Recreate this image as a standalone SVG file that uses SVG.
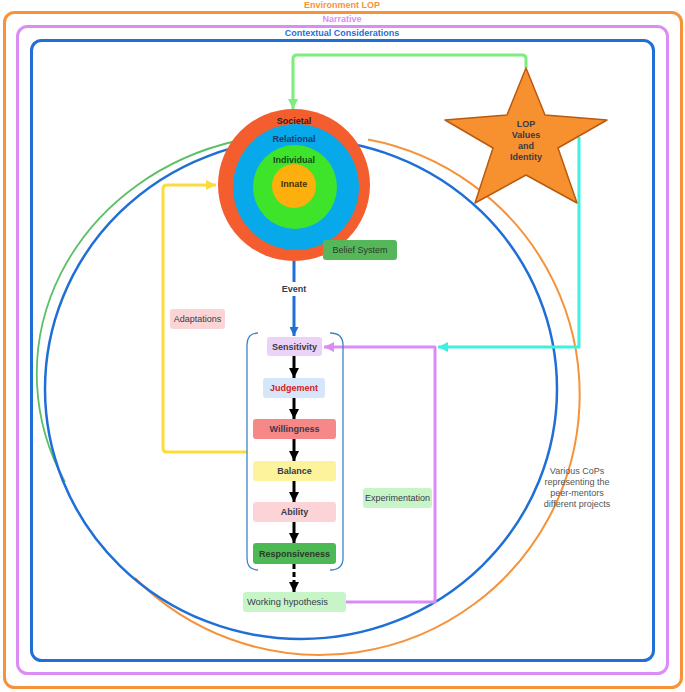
<svg xmlns="http://www.w3.org/2000/svg" width="685" height="692" viewBox="0 0 685 692">
<style>
text{font-family:"Liberation Sans",Arial,sans-serif;font-size:9px;text-anchor:middle}
.b{font-weight:bold}
.dk{fill:#3a3a48}
.frame{fill:none;stroke-width:3}
.conn{fill:none;stroke-width:3;stroke-linejoin:round}
.blk{stroke:#000;stroke-width:3;fill:none}
</style>
<defs>
<marker id="mBlue" viewBox="0 0 10 10" refX="10" refY="5" markerWidth="9" markerHeight="9" markerUnits="userSpaceOnUse" orient="auto"><path d="M0,0L10,5L0,10z" fill="#1f6fd6"/></marker>
<marker id="mBlack" viewBox="0 0 10 10" refX="10" refY="5" markerWidth="10" markerHeight="10" markerUnits="userSpaceOnUse" orient="auto"><path d="M0,0L10,5L0,10z" fill="#000"/></marker>
<marker id="mGreen" viewBox="0 0 10 10" refX="10" refY="5" markerWidth="10" markerHeight="10" markerUnits="userSpaceOnUse" orient="auto"><path d="M0,0L10,5L0,10z" fill="#7ded7d"/></marker>
<marker id="mYellow" viewBox="0 0 10 10" refX="10" refY="5" markerWidth="10" markerHeight="10" markerUnits="userSpaceOnUse" orient="auto"><path d="M0,0L10,5L0,10z" fill="#fcdc3c"/></marker>
<marker id="mCyan" viewBox="0 0 10 10" refX="10" refY="5" markerWidth="10" markerHeight="10" markerUnits="userSpaceOnUse" orient="auto"><path d="M0,0L10,5L0,10z" fill="#3ff0dc"/></marker>
<marker id="mPurple" viewBox="0 0 10 10" refX="10" refY="5" markerWidth="10" markerHeight="10" markerUnits="userSpaceOnUse" orient="auto"><path d="M0,0L10,5L0,10z" fill="#d98cf5"/></marker>
</defs>
<rect width="685" height="692" fill="#fff"/>

<g id="environment">
<rect class="frame" x="4.5" y="12.5" width="677" height="675" rx="10" stroke="#f7923a"/>
<text class="b" x="342" y="8" fill="#f7923a">Environment LOP</text>
</g>
<g id="narrative">
<rect class="frame" x="17.5" y="26.5" width="650" height="647" rx="10" stroke="#dd8cf5"/>
<text class="b" x="342" y="22" fill="#dd8cf5">Narrative</text>
</g>
<g id="contextual">
<rect class="frame" x="31.5" y="40.5" width="622" height="620" rx="10" stroke="#1f6fd6"/>
<text class="b" x="342" y="36" fill="#1f6fd6">Contextual Considerations</text>
</g>

<g id="cop-circles">
<path d="M368,139.5 A260 260 0 1 1 135,578" fill="none" stroke="#f7923a" stroke-width="2"/>
<path d="M236,141 A263 240 0 0 0 65,482" fill="none" stroke="#5cc064" stroke-width="1.8"/>
<ellipse cx="301" cy="389" rx="256" ry="250" fill="none" stroke="#1f6fd6" stroke-width="2.5"/>
</g>

<g id="cop-label">
<text x="577" y="474" fill="#555">Various CoPs</text>
<text x="577" y="485" fill="#555">representing the</text>
<text x="577" y="496" fill="#555">peer-mentors</text>
<text x="577" y="507" fill="#555">different projects</text>
</g>

<g id="connectors">
<path class="conn" d="M526,68 L526,59 Q526,55 522,55 L297,55 Q293,55 293,59 L293,109" stroke="#7ded7d" marker-end="url(#mGreen)"/>
<path class="conn" d="M579,137 L579,347 L438,347" stroke="#3ff0dc" marker-end="url(#mCyan)"/>
<path class="conn" d="M346,602 L435,602 L435,347 L324,347" stroke="#d98cf5" marker-end="url(#mPurple)"/>
<path class="conn" d="M247,452 L167,452 Q163,452 163,448 L163,189 Q163,185 167,185 L216,185" stroke="#fcdc3c" stroke-width="3.5" marker-end="url(#mYellow)"/>
<line x1="294" y1="261" x2="294" y2="282" stroke="#1f6fd6" stroke-width="3"/>
<line x1="294" y1="296" x2="294" y2="336" stroke="#1f6fd6" stroke-width="3" marker-end="url(#mBlue)"/>
<line class="blk" x1="294" y1="356" x2="294" y2="378" marker-end="url(#mBlack)"/>
<line class="blk" x1="294" y1="398" x2="294" y2="419" marker-end="url(#mBlack)"/>
<line class="blk" x1="294" y1="439" x2="294" y2="461" marker-end="url(#mBlack)"/>
<line class="blk" x1="294" y1="481" x2="294" y2="502" marker-end="url(#mBlack)"/>
<line class="blk" x1="294" y1="522" x2="294" y2="543" marker-end="url(#mBlack)"/>
<line class="blk" x1="294" y1="564" x2="294" y2="592" stroke-dasharray="5,3" marker-end="url(#mBlack)"/>
</g>

<g id="self-levels">
<circle cx="294" cy="185" r="76" fill="#f45d2e"/>
<circle cx="296" cy="187" r="63" fill="#07a9ea"/>
<circle cx="295" cy="187" r="42" fill="#3ee42a"/>
<circle cx="294" cy="186" r="22" fill="#fdaf0d"/>
<text class="b" x="294" y="124" fill="#3a1a14">Societal</text>
<text class="b" x="294" y="142" fill="#18386a">Relational</text>
<text class="b" x="294" y="163" fill="#1c4a18">Individual</text>
<text class="b" x="294" y="187" fill="#4a3000">Innate</text>
</g>

<g id="belief-system">
<rect x="323" y="240" width="74" height="20" rx="3" fill="#55b75a"/>
<text x="360" y="253" fill="#2a3a2a">Belief System</text>
</g>

<g id="event">
<text class="b dk" x="294" y="292">Event</text>
</g>

<g id="star">
<polygon points="526,68 545,115 607,120 558,148 577,203 526,175 475,203 493,148 445,120 507,115" fill="#f7902f" stroke="#b95a10" stroke-width="1.5" stroke-linejoin="round"/>
<text class="b dk" x="526" y="127">LOP</text>
<text class="b dk" x="526" y="138">Values</text>
<text class="b dk" x="526" y="149">and</text>
<text class="b dk" x="526" y="160">Identity</text>
</g>

<g id="adaptations">
<rect x="170" y="309" width="55" height="20" rx="3" fill="#fbd5d6"/>
<text class="dk" x="197.5" y="322">Adaptations</text>
</g>

<g id="bracket">
<path d="M258,333 Q247,333 247,345 L247,558 Q247,570 258,570" fill="none" stroke="#3d85c6" stroke-width="1.3"/>
<path d="M330,333 Q343,333 343,345 L343,558 Q343,570 330,570" fill="none" stroke="#3d85c6" stroke-width="1.3"/>
</g>

<g id="sensitivity">
<rect x="267" y="337" width="55" height="19" rx="3" fill="#ead3f6"/>
<text class="b dk" x="294.5" y="350">Sensitivity</text>
</g>
<g id="judgement">
<rect x="263" y="378" width="62" height="20" rx="3" fill="#d5e5fa"/>
<text class="b" x="294" y="391" fill="#d42020">Judgement</text>
</g>
<g id="willingness">
<rect x="253" y="419" width="83" height="20" rx="3" fill="#f68888"/>
<text class="b dk" x="294.5" y="432">Willingness</text>
</g>
<g id="balance">
<rect x="253" y="461" width="83" height="20" rx="3" fill="#fdf39c"/>
<text class="b dk" x="294.5" y="474">Balance</text>
</g>
<g id="ability">
<rect x="253" y="502" width="83" height="20" rx="3" fill="#fcd4d7"/>
<text class="b dk" x="294.5" y="515">Ability</text>
</g>
<g id="responsiveness">
<rect x="253" y="543" width="83" height="21" rx="3" fill="#4cb954"/>
<text class="b" x="294.5" y="557" fill="#2a3a2a">Responsiveness</text>
</g>
<g id="working-hypothesis">
<rect x="243" y="592" width="103" height="20" rx="3" fill="#c8f5c8"/>
<text class="dk" x="247" y="605" style="text-anchor:start;font-size:9.3px">Working hypothesis</text>
</g>
<g id="experimentation">
<rect x="363" y="488" width="69" height="20" rx="3" fill="#c8f5c8"/>
<text class="dk" x="397.5" y="501">Experimentation</text>
</g>
</svg>
